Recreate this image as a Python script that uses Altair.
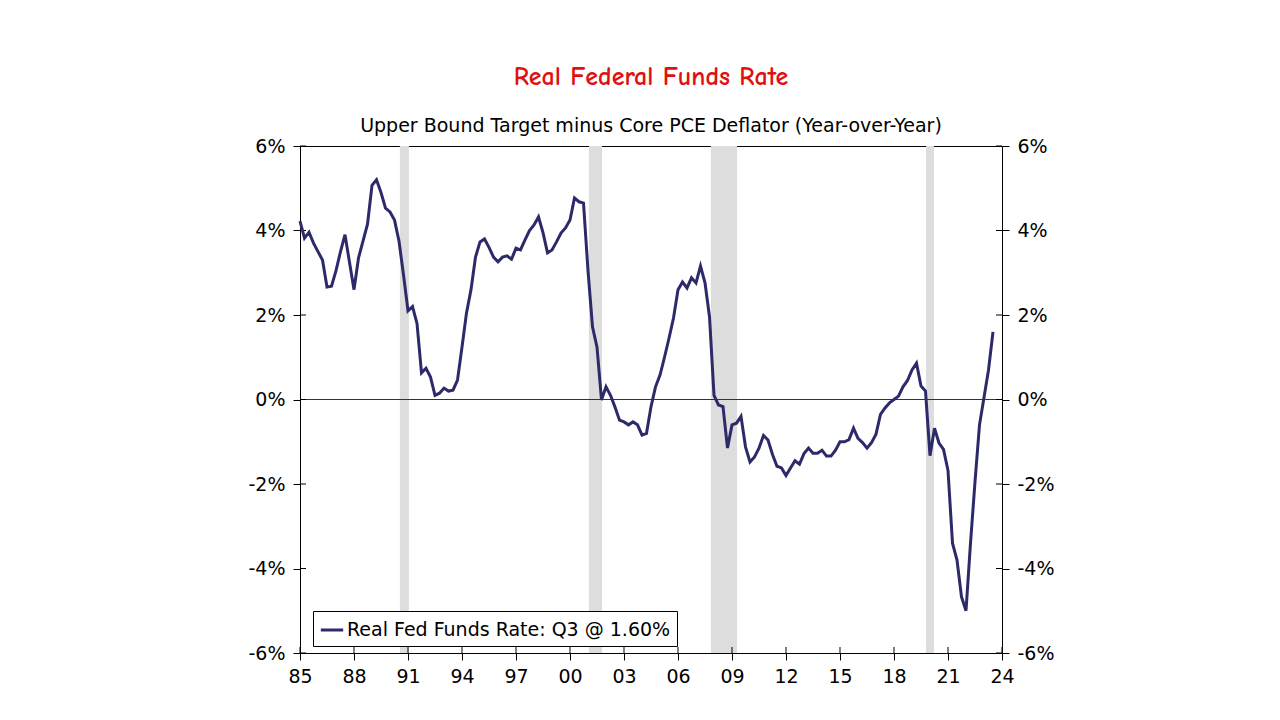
import altair as alt
import pandas as pd

# Real federal funds rate, quarterly, percent (upper bound target minus core PCE y/y)
rate_1985_1989 = [4.22, 3.82, 3.96, 3.70, 3.50, 3.30, 2.66, 2.68, 3.05, 3.50,
                  3.90, 3.25, 2.60, 3.35, 3.75, 4.15, 5.07, 5.20, 4.90, 4.53]
rate_1990_1999 = [4.44, 4.25, 3.75, 2.95, 2.10, 2.20, 1.80, 0.63, 0.74, 0.53,
                  0.10, 0.15, 0.27, 0.20, 0.22, 0.46, 1.24, 2.05, 2.60, 3.37,
                  3.73, 3.80, 3.60, 3.37, 3.26, 3.37, 3.40, 3.32, 3.58, 3.54,
                  3.78, 4.00, 4.13, 4.32, 3.95, 3.47, 3.54, 3.73, 3.94, 4.06]
rate_2000_2009 = [4.25, 4.77, 4.68, 4.65, 3.05, 1.72, 1.24, -0.01, 0.30, 0.10,
                  -0.18, -0.49, -0.53, -0.60, -0.53, -0.60, -0.84, -0.80, -0.17, 0.30,
                  0.58, 1.00, 1.45, 1.93, 2.60, 2.78, 2.64, 2.88, 2.76, 3.16,
                  2.76, 1.96, 0.10, -0.13, -0.17, -1.15, -0.60, -0.56, -0.40, -1.12]
rate_2010_2019 = [-1.48, -1.36, -1.15, -0.85, -0.96, -1.30, -1.58, -1.62, -1.80, -1.62,
                  -1.45, -1.53, -1.28, -1.15, -1.27, -1.27, -1.20, -1.34, -1.34, -1.20,
                  -1.00, -1.00, -0.95, -0.68, -0.92, -1.02, -1.15, -1.02, -0.82, -0.35,
                  -0.20, -0.08, 0.00, 0.08, 0.30, 0.45, 0.70, 0.86, 0.32, 0.20]
rate_2020_2023 = [-1.33, -0.68, -1.03, -1.18, -1.68, -3.40, -3.80, -4.67, -5.00, -3.40,
                  -1.95, -0.60, 0.05, 0.70, 1.60]

rates = rate_1985_1989 + rate_1990_1999 + rate_2000_2009 + rate_2010_2019 + rate_2020_2023
quarters = [1985 + i / 4 for i in range(len(rates))]

# Recession periods (decimal years)
rec_start = [1990.55, 2001.05, 2007.83, 2019.78]
rec_end = [1991.05, 2001.78, 2009.28, 2020.22]

x_ticks = [1985, 1988, 1991, 1994, 1997, 2000, 2003, 2006, 2009, 2012, 2015, 2018, 2021, 2024]
y_ticks = [-6, -4, -2, 0, 2, 4, 6]

series_label = f"Real Fed Funds Rate: Q3 @ {rates[-1]:.2f}%"

NAVY = "#2c2a69"
FONT = "DejaVu Sans"
W, H = 702, 507

df = pd.DataFrame({"year": quarters, "rate": rates, "series": series_label})
rec_df = pd.DataFrame({"start": rec_start, "end": rec_end})
xt_df = pd.DataFrame({"year": x_ticks})
yt_df = pd.DataFrame({"pct": y_ticks})

x_scale = alt.Scale(domain=[1985, 2024], nice=False, zero=False)
y_scale = alt.Scale(domain=[-6, 6], nice=False, zero=False)

x_axis = alt.Axis(values=x_ticks, labelExpr="substring(toString(datum.value), 2, 4)",
                  title=None, grid=False, tickSize=7, labelPadding=7,
                  labelOverlap=False, labelFlush=False, labelBound=False)
pct_label = "datum.value + '%'"
left_axis = alt.Axis(values=y_ticks, labelExpr=pct_label, title=None, grid=False,
                     orient="left", tickSize=7, labelPadding=8)
right_axis = alt.Axis(values=y_ticks, labelExpr=pct_label, title=None, grid=False,
                      orient="right", tickSize=7, labelPadding=8)

recessions = alt.Chart(rec_df).mark_rect(color="#dddddd").encode(
    x=alt.X("start:Q", scale=x_scale, axis=x_axis),
    x2="end:Q",
)

zero_line = alt.Chart(pd.DataFrame({"z": [0]})).mark_rule(color="#333333", strokeWidth=1).encode(
    y=alt.Y("z:Q", scale=y_scale, axis=None),
)

line = alt.Chart(df).mark_line(strokeWidth=3).encode(
    x=alt.X("year:Q", scale=x_scale, axis=x_axis),
    y=alt.Y("rate:Q", scale=y_scale, axis=left_axis),
    color=alt.Color(
        "series:N",
        scale=alt.Scale(range=[NAVY]),
        legend=alt.Legend(
            title=None, orient="none", legendX=13, legendY=465,
            symbolType="stroke", symbolStrokeWidth=3, symbolSize=500,
            labelFont=FONT, labelFontSize=19, labelColor="black", labelOffset=2,
            labelLimit=0,
            strokeColor="black", fillColor="white", padding=6,
        ),
    ),
)

# inner halves of the tick marks (ticks cross the axis lines)
x_inner = alt.Chart(xt_df).mark_rule(color="black").encode(
    x=alt.X("year:Q", scale=x_scale, axis=x_axis),
    y=alt.value(H), y2=alt.value(H - 6),
)
y_inner_left = alt.Chart(yt_df).mark_rule(color="black").encode(
    y=alt.Y("pct:Q", scale=y_scale, axis=None),
    x=alt.value(0), x2=alt.value(6),
)
y_inner_right = alt.Chart(yt_df).mark_rule(color="black").encode(
    y=alt.Y("pct:Q", scale=y_scale, axis=right_axis),
    x=alt.value(W - 6), x2=alt.value(W),
)

chart = alt.layer(
    recessions, zero_line, x_inner, y_inner_left, line, y_inner_right
).resolve_scale(y="shared").resolve_axis(y="independent").properties(
    width=W,
    height=H,
    autosize=alt.AutoSizeParams(type="none"),
    padding={"left": 300, "top": 146, "right": 278, "bottom": 67},
    background="white",
    title=alt.TitleParams(
        text="Real Federal Funds Rate",
        subtitle="Upper Bound Target minus Core PCE Deflator (Year-over-Year)",
        font="Comic Sans MS, Comic Neue, DejaVu Sans",
        fontSize=26,
        fontWeight="bold",
        color="#e01010",
        subtitleFont=FONT,
        subtitleFontSize=19,
        subtitleColor="black",
        subtitlePadding=27,
        anchor="middle",
        offset=1,
    ),
).configure_view(
    stroke="black", strokeWidth=1
).configure_axis(
    domainColor="black", tickColor="black", labelColor="black",
    labelFont=FONT, labelFontSize=19, domainWidth=1, tickWidth=1,
)

chart.save("out.html", embed_options={"renderer": "svg", "actions": False})
